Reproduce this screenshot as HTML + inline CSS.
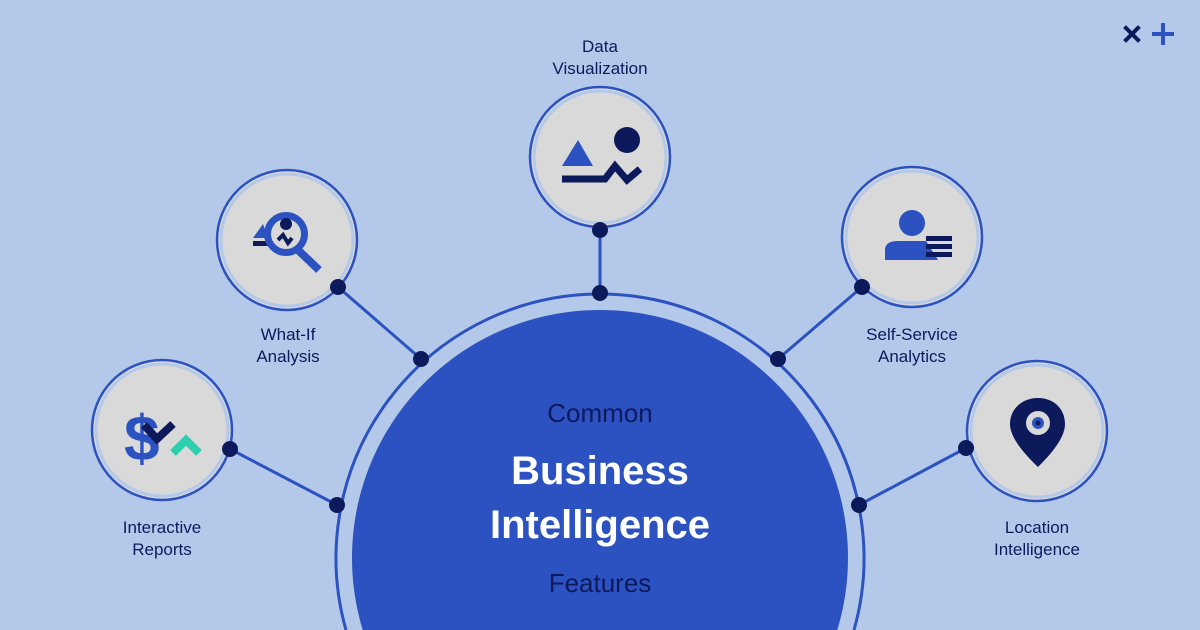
<!DOCTYPE html>
<html><head><style>
html,body{margin:0;padding:0;background:#b4c9e9;width:1200px;height:630px;overflow:hidden;}
svg{display:block}
text{font-family:"Liberation Sans",sans-serif;fill:#0c1a5c}
</style></head><body>
<svg width="1200" height="630" viewBox="0 0 1200 630" xmlns="http://www.w3.org/2000/svg">
<rect width="1200" height="630" fill="#b4c9e9"/>
<g stroke="#2b52c0" stroke-width="3">
<line x1="600" y1="230" x2="600" y2="293"/>
<line x1="338" y1="287" x2="421" y2="359"/>
<line x1="862" y1="287" x2="778" y2="359"/>
<line x1="230" y1="449" x2="337" y2="505"/>
<line x1="966" y1="448" x2="859" y2="505"/>
</g>
<path d="M346,630 A264,264 0 1 1 854,630" fill="none" stroke="#2b52c0" stroke-width="3"/>
<path d="M362.7,630 A248,248 0 1 1 837.3,630 Z" fill="#2b52c0"/>
<g stroke="#2b52c0" stroke-width="2.5" fill="#d9d9d9">
<circle cx="600" cy="157" r="70"/>
<circle cx="287" cy="240" r="70"/>
<circle cx="912" cy="237" r="70"/>
<circle cx="162" cy="430" r="70"/>
<circle cx="1037" cy="431" r="70"/>
</g>
<g fill="none" stroke="#b4c9e9" stroke-width="3">
<circle cx="600" cy="157" r="66"/>
<circle cx="287" cy="240" r="66"/>
<circle cx="912" cy="237" r="66"/>
<circle cx="162" cy="430" r="66"/>
<circle cx="1037" cy="431" r="66"/>
</g>
<g fill="#0c1a5c">
<circle cx="600" cy="230" r="8"/><circle cx="600" cy="293" r="8"/>
<circle cx="338" cy="287" r="8"/><circle cx="421" cy="359" r="8"/>
<circle cx="862" cy="287" r="8"/><circle cx="778" cy="359" r="8"/>
<circle cx="230" cy="449" r="8"/><circle cx="337" cy="505" r="8"/>
<circle cx="966" cy="448" r="8"/><circle cx="859" cy="505" r="8"/>
</g>
<polygon points="578,140 562,166 593,166" fill="#2b52c0"/>
<circle cx="627" cy="140" r="13" fill="#0c1a5c"/>
<polyline points="562,179 605,179 615,166 627,180 640,169" fill="none" stroke="#0c1a5c" stroke-width="7"/>
<polygon points="263,224 253,238 268,238" fill="#2b52c0"/>
<rect x="253" y="241" width="18" height="5" fill="#0c1a5c"/>
<line x1="298" y1="250" x2="319" y2="270" stroke="#2b52c0" stroke-width="8"/>
<circle cx="286" cy="234" r="18.5" fill="#d9d9d9" stroke="#2b52c0" stroke-width="7"/>
<circle cx="286" cy="224" r="6" fill="#0c1a5c"/>
<polyline points="278,240 283,235 288,243 292,238" fill="none" stroke="#0c1a5c" stroke-width="4"/>
<text x="124" y="460" style="font-size:64px;font-weight:bold;fill:#2b52c0">$</text>
<polyline points="144,425 157,439 173,424" fill="none" stroke="#0c1a5c" stroke-width="8"/>
<polyline points="173,453 186,440 199,453" fill="none" stroke="#2ecfae" stroke-width="8"/>
<circle cx="912" cy="223" r="13" fill="#2b52c0"/>
<path d="M885,260 L885,250 Q885,241 898,241 L926,241 L938,260 Z" fill="#2b52c0"/>
<rect x="926" y="236" width="26" height="5" fill="#0c1a5c"/>
<rect x="926" y="244" width="26" height="5" fill="#0c1a5c"/>
<rect x="926" y="252" width="26" height="5" fill="#0c1a5c"/>
<path d="M1038,398 C1022,398 1010,409 1010,424 C1010,440 1030,459 1038,467 C1046,459 1065,440 1065,424 C1065,409 1054,398 1038,398 Z" fill="#0c1a5c"/>
<circle cx="1038" cy="423" r="12" fill="#d9d9d9"/>
<circle cx="1038" cy="423" r="6" fill="#2b52c0"/>
<circle cx="1038" cy="423" r="2.5" fill="#0c1a5c"/>
<g style="font-size:17px" text-anchor="middle">
<text x="600" y="52">Data</text><text x="600" y="74">Visualization</text>
<text x="288" y="340">What-If</text><text x="288" y="362">Analysis</text>
<text x="912" y="340">Self-Service</text><text x="912" y="362">Analytics</text>
<text x="162" y="533">Interactive</text><text x="162" y="555">Reports</text>
<text x="1037" y="533">Location</text><text x="1037" y="555">Intelligence</text>
</g>
<g text-anchor="middle">
<text x="600" y="422" style="font-size:26px">Common</text>
<text x="600" y="484" style="font-size:40px;font-weight:bold;fill:#fff">Business</text>
<text x="600" y="538" style="font-size:40px;font-weight:bold;fill:#fff">Intelligence</text>
<text x="600" y="592" style="font-size:26px">Features</text>
</g>
<g stroke-width="4" stroke-linecap="square">
<line x1="1126" y1="28" x2="1138" y2="40" stroke="#0c1a5c"/>
<line x1="1138" y1="28" x2="1126" y2="40" stroke="#0c1a5c"/>
<line x1="1163" y1="25" x2="1163" y2="43" stroke="#2b52c0"/>
<line x1="1154" y1="34" x2="1172" y2="34" stroke="#2b52c0"/>
</g>
</svg>
</body></html>
